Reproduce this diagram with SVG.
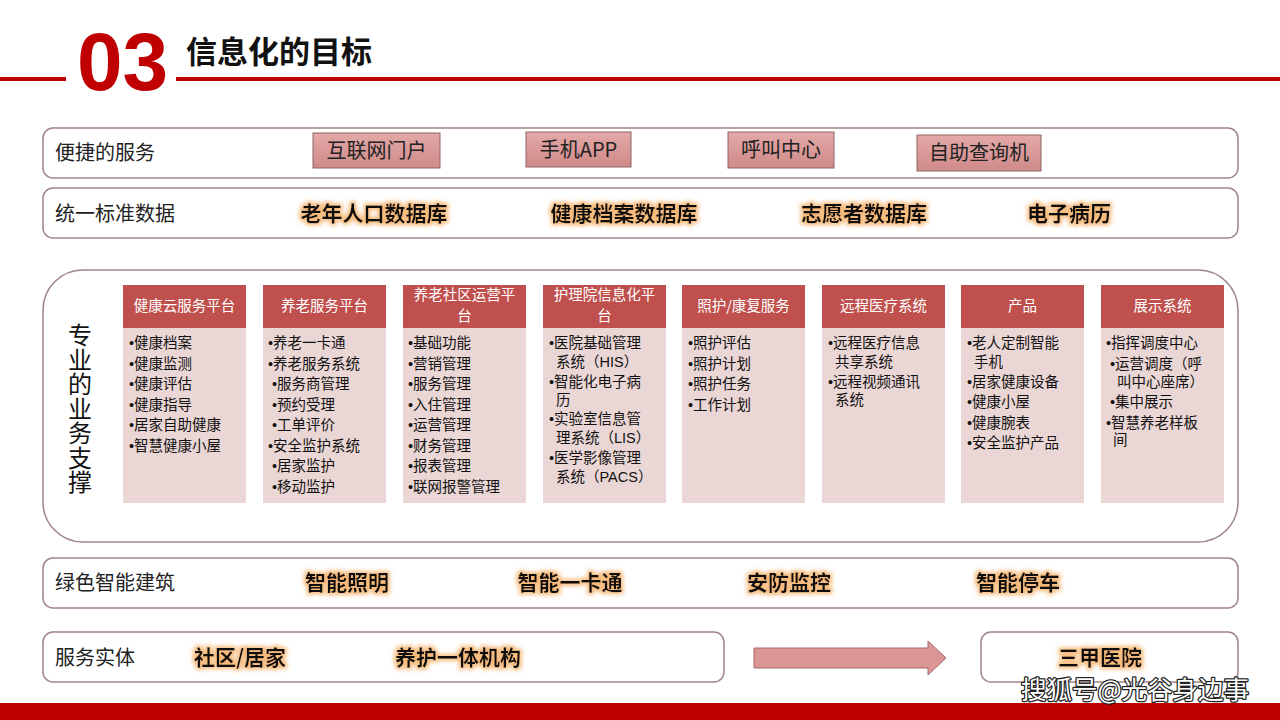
<svg xmlns="http://www.w3.org/2000/svg" width="1280" height="720" viewBox="0 0 1280 720">
<defs>
<style>
.row{fill:#fff;stroke:#a08585;stroke-width:1.5;}
.lbl{font-family:"Noto Sans CJK SC",sans-serif;font-size:20px;fill:#222;}
.btn{fill:url(#btnGrad);stroke:#8e6464;stroke-width:1;}
.btxt{font-family:"Noto Sans CJK SC",sans-serif;font-size:20px;fill:#222;text-anchor:middle;}
.bold{font-family:"Noto Sans CJK SC",sans-serif;font-size:21px;font-weight:700;fill:#111;text-anchor:middle;filter:url(#glow);}
.hd{fill:#c0504d;}
.bd{fill:#ead6d5;}
.htxt{font-family:"Noto Sans CJK SC",sans-serif;font-size:14.5px;fill:#fff;text-anchor:middle;}
.itm{font-family:"Liberation Sans","Noto Sans CJK SC",sans-serif;font-size:14.5px;fill:#111;}
</style>
<linearGradient id="btnGrad" x1="0" y1="0" x2="0" y2="1">
<stop offset="0" stop-color="#e3a9a8"/>
<stop offset="1" stop-color="#cf8a89"/>
</linearGradient>
<filter id="glow" x="-10%" y="-40%" width="120%" height="180%">
<feMorphology in="SourceAlpha" operator="dilate" radius="1.5" result="d"/>
<feGaussianBlur in="d" stdDeviation="2" result="b"/>
<feFlood flood-color="#f5b36e" flood-opacity="0.9"/>
<feComposite in2="b" operator="in" result="g"/>
<feMerge><feMergeNode in="g"/><feMergeNode in="SourceGraphic"/></feMerge>
</filter>
</defs>
<rect width="1280" height="720" fill="#fff"/>

<g id="header">
<rect x="0" y="77" width="66" height="4" fill="#c00000"/>
<rect x="176" y="77" width="1104" height="4" fill="#c00000"/>
<text x="77" y="90" font-family="Liberation Sans,sans-serif" font-size="82" font-weight="700" fill="#c00000">03</text>
<text x="186" y="63" font-family="Noto Sans CJK SC,sans-serif" font-size="31" font-weight="700" fill="#111">信息化的目标</text>
</g>

<g id="row-services">
<rect class="row" x="43" y="128" width="1195" height="50" rx="10"/>
<text class="lbl" x="55" y="160">便捷的服务</text>
<rect class="btn" x="313" y="133" width="127" height="35"/>
<text class="btxt" x="376.5" y="158">互联网门户</text>
<rect class="btn" x="526" y="132" width="105" height="35"/>
<text class="btxt" x="578.5" y="157">手机APP</text>
<rect class="btn" x="728" y="132" width="106" height="36"/>
<text class="btxt" x="781" y="157">呼叫中心</text>
<rect class="btn" x="917" y="135" width="124" height="36"/>
<text class="btxt" x="979" y="160">自助查询机</text>
</g>

<g id="row-data">
<rect class="row" x="43" y="188" width="1195" height="50" rx="10"/>
<text class="lbl" x="55" y="221">统一标准数据</text>
<text class="bold" x="374" y="221">老年人口数据库</text>
<text class="bold" x="624" y="221">健康档案数据库</text>
<text class="bold" x="864" y="221">志愿者数据库</text>
<text class="bold" x="1069" y="221">电子病历</text>
</g>

<g id="row-business">
<rect class="row" x="43" y="270" width="1195" height="272" rx="40"/>
<text x="80" y="323" writing-mode="vertical-rl" letter-spacing="0.5" font-family="Noto Sans CJK SC,sans-serif" font-size="24" fill="#111">专业的业务支撑</text>
</g>

<g id="col1">
<rect class="hd" x="123" y="285" width="123" height="43"/>
<rect class="bd" x="123" y="328" width="123" height="175"/>
<text class="htxt" x="184.5" y="311">健康云服务平台</text>
<text class="itm"><tspan x="129" y="348">•健康档案</tspan><tspan x="129" y="368.5">•健康监测</tspan><tspan x="129" y="389">•健康评估</tspan><tspan x="129" y="409.5">•健康指导</tspan><tspan x="129" y="430">•居家自助健康</tspan><tspan x="129" y="450.5">•智慧健康小屋</tspan></text>
</g>

<g id="col2">
<rect class="hd" x="263" y="285" width="123" height="43"/>
<rect class="bd" x="263" y="328" width="123" height="175"/>
<text class="htxt" x="324.5" y="311">养老服务平台</text>
<text class="itm"><tspan x="268" y="348">•养老一卡通</tspan><tspan x="268" y="368.5">•养老服务系统</tspan><tspan x="272" y="389">•服务商管理</tspan><tspan x="272" y="409.5">•预约受理</tspan><tspan x="272" y="430">•工单评价</tspan><tspan x="268" y="450.5">•安全监护系统</tspan><tspan x="272" y="471">•居家监护</tspan><tspan x="272" y="491.5">•移动监护</tspan></text>
</g>

<g id="col3">
<rect class="hd" x="403" y="285" width="123" height="43"/>
<rect class="bd" x="403" y="328" width="123" height="175"/>
<text class="htxt"><tspan x="464.5" y="300">养老社区运营平</tspan><tspan x="464.5" y="321">台</tspan></text>
<text class="itm"><tspan x="408" y="348">•基础功能</tspan><tspan x="408" y="368.5">•营销管理</tspan><tspan x="408" y="389">•服务管理</tspan><tspan x="408" y="409.5">•入住管理</tspan><tspan x="408" y="430">•运营管理</tspan><tspan x="408" y="450.5">•财务管理</tspan><tspan x="408" y="471">•报表管理</tspan><tspan x="408" y="491.5">•联网报警管理</tspan></text>
</g>

<g id="col4">
<rect class="hd" x="543" y="285" width="123" height="43"/>
<rect class="bd" x="543" y="328" width="123" height="175"/>
<text class="htxt"><tspan x="604.5" y="300">护理院信息化平</tspan><tspan x="604.5" y="321">台</tspan></text>
<text class="itm"><tspan x="549" y="348">•医院基础管理</tspan><tspan x="556" y="367">系统（HIS）</tspan><tspan x="549" y="386.5">•智能化电子病</tspan><tspan x="556" y="405">历</tspan><tspan x="549" y="424">•实验室信息管</tspan><tspan x="556" y="443">理系统（LIS）</tspan><tspan x="549" y="462.5">•医学影像管理</tspan><tspan x="556" y="481.5">系统（PACS）</tspan></text>
</g>

<g id="col5">
<rect class="hd" x="682" y="285" width="123" height="43"/>
<rect class="bd" x="682" y="328" width="123" height="175"/>
<text class="htxt" x="743.5" y="311">照护/康复服务</text>
<text class="itm"><tspan x="688" y="348">•照护评估</tspan><tspan x="688" y="368.5">•照护计划</tspan><tspan x="688" y="389">•照护任务</tspan><tspan x="688" y="409.5">•工作计划</tspan></text>
</g>

<g id="col6">
<rect class="hd" x="822" y="285" width="123" height="43"/>
<rect class="bd" x="822" y="328" width="123" height="175"/>
<text class="htxt" x="883.5" y="311">远程医疗系统</text>
<text class="itm"><tspan x="828" y="348">•远程医疗信息</tspan><tspan x="835" y="367">共享系统</tspan><tspan x="828" y="386.5">•远程视频通讯</tspan><tspan x="835" y="405">系统</tspan></text>
</g>

<g id="col7">
<rect class="hd" x="961" y="285" width="123" height="43"/>
<rect class="bd" x="961" y="328" width="123" height="175"/>
<text class="htxt" x="1022.5" y="311">产品</text>
<text class="itm"><tspan x="967" y="348">•老人定制智能</tspan><tspan x="974" y="367">手机</tspan><tspan x="967" y="386.5">•居家健康设备</tspan><tspan x="967" y="407">•健康小屋</tspan><tspan x="967" y="427.5">•健康腕表</tspan><tspan x="967" y="448">•安全监护产品</tspan></text>
</g>

<g id="col8">
<rect class="hd" x="1101" y="285" width="123" height="43"/>
<rect class="bd" x="1101" y="328" width="123" height="175"/>
<text class="htxt" x="1162.5" y="311">展示系统</text>
<text class="itm"><tspan x="1106" y="348">•指挥调度中心</tspan><tspan x="1110" y="368.5">•运营调度（呼</tspan><tspan x="1117" y="387">叫中心座席）</tspan><tspan x="1110" y="407">•集中展示</tspan><tspan x="1106" y="427.5">•智慧养老样板</tspan><tspan x="1113" y="445">间</tspan></text>
</g>

<g id="row-building">
<rect class="row" x="43" y="558" width="1195" height="50" rx="10"/>
<text class="lbl" x="55" y="590">绿色智能建筑</text>
<text class="bold" x="347" y="590">智能照明</text>
<text class="bold" x="570" y="590">智能一卡通</text>
<text class="bold" x="789" y="590">安防监控</text>
<text class="bold" x="1018" y="590">智能停车</text>
</g>

<g id="row-entity">
<rect class="row" x="43" y="632" width="681" height="50" rx="10"/>
<text class="lbl" x="55" y="665">服务实体</text>
<text class="bold" x="240" y="665">社区/居家</text>
<text class="bold" x="458" y="665">养护一体机构</text>
</g>

<g id="connectors">
<polygon points="754,648 928,648 928,641 946,658 928,675 928,668 754,668" fill="#d99694" stroke="#a66a6a" stroke-width="1"/>
</g>

<g id="hospital">
<rect class="row" x="981" y="632" width="257" height="50" rx="10"/>
<text class="bold" x="1100" y="665">三甲医院</text>
</g>

<g id="footer">
<rect x="0" y="703" width="1280" height="17" fill="#c00000"/>
<text x="1021" y="699" font-family="Noto Sans CJK SC,sans-serif" font-size="25.5" fill="#fff" stroke="#222" stroke-width="2.5" paint-order="stroke" stroke-linejoin="round">搜狐号@光谷身边事</text>
</g>
</svg>
